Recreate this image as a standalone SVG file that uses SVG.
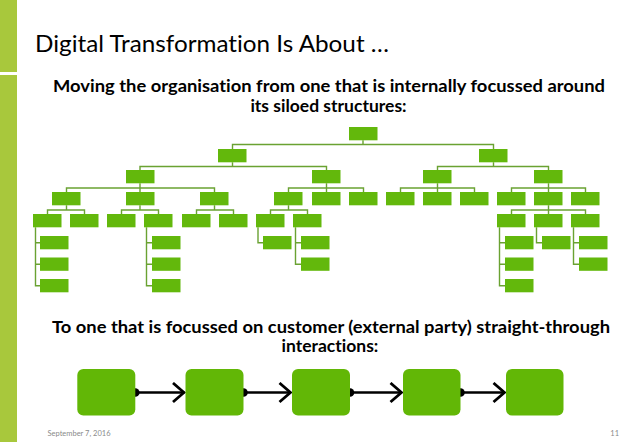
<svg xmlns="http://www.w3.org/2000/svg" width="638" height="442" viewBox="0 0 638 442">
<style>
.bar{fill:#a8c83c}
.b{fill:#63b80c}
.cb{fill:#62b706}
.tree{fill:none;stroke:#6aa232;stroke-width:1.4}
.flow{fill:none;stroke:#000;stroke-width:2.6}
text{font-variant-ligatures:none}
.title{font-family:Lato,"Liberation Sans",sans-serif;font-size:24px;fill:#000}
.sub{font-family:Lato,"Liberation Sans",sans-serif;font-size:17.5px;font-weight:bold;fill:#000;text-anchor:middle}
.foot{font-family:Lato,"Liberation Sans",sans-serif;font-size:7.5px;fill:#8a8a8a}
</style>
<defs>
<marker id="chev" markerUnits="userSpaceOnUse" viewBox="0 0 14 22" refX="13" refY="11" markerWidth="14" markerHeight="22" orient="auto">
<path d="M1.5,1.5 L12.5,11 L1.5,20.5" fill="none" stroke="#000" stroke-width="2.8"/>
</marker>
<marker id="dot" markerUnits="userSpaceOnUse" viewBox="0 0 10 10" refX="5" refY="5" markerWidth="10" markerHeight="10">
<circle cx="5" cy="5" r="4.3" fill="#000"/>
</marker>
</defs>
<rect width="638" height="442" fill="#fff"/>
<rect class="bar" x="0" y="0" width="17" height="72"/>
<rect class="bar" x="0" y="75" width="17" height="367"/>
<text class="title" x="35" y="52" textLength="354" lengthAdjust="spacingAndGlyphs">Digital Transformation Is About …</text>
<text class="sub" x="329" y="92" textLength="552" lengthAdjust="spacingAndGlyphs">Moving the organisation from one that is internally focussed around</text>
<text class="sub" x="328.5" y="111.5">its siloed structures:</text>
<text class="sub" x="331" y="333" textLength="558" lengthAdjust="spacingAndGlyphs">To one that is focussed on customer (external party) straight-through</text>
<text class="sub" x="330" y="352">interactions:</text>
<text class="foot" x="47.5" y="436">September 7, 2016</text>
<text class="foot" x="619" y="436" text-anchor="end">11</text>

<g id="connectors">
<path class="tree" d="M232.5,149 V144.5 H493.5 V149 M363,140.3 V144.5"/>
<path class="tree" d="M140,170 V166.5 H326.5 V170 M232.5,162.3 V166.5"/>
<path class="tree" d="M437.5,170 V166.5 H548.5 V170 M493.5,162.3 V166.5"/>
<path class="tree" d="M66.5,192 V188 H214.5 V192 M140,183.3 V192"/>
<path class="tree" d="M288.5,192 V188 H363.5 V192 M326.5,183.3 V192"/>
<path class="tree" d="M400.5,192 V188 H474.5 V192 M437.5,183.3 V192"/>
<path class="tree" d="M511.5,192 V188 H585.5 V192 M548.5,183.3 V192"/>
<path class="tree" d="M47.5,214 V210 H84.5 V214 M66.5,205.3 V210"/>
<path class="tree" d="M121.5,214 V210 H158.5 V214 M140,205.3 V210"/>
<path class="tree" d="M196.5,214 V210 H233.5 V214 M214.5,205.3 V210"/>
<path class="tree" d="M270.5,214 V210 H307.5 V214 M288.5,205.3 V210"/>
<path class="tree" d="M511.5,214 V210 H585.5 V214 M548.5,205.3 V214"/>
<path class="tree" d="M35.5,227.3 V285.7 H40 M35.5,242.7 H40 M35.5,264.2 H40"/>
<path class="tree" d="M146.5,227.3 V285.7 H152 M146.5,242.7 H152 M146.5,264.2 H152"/>
<path class="tree" d="M258,227.3 V242.7 H263"/>
<path class="tree" d="M295.5,227.3 V264.2 H301 M295.5,242.7 H301"/>
<path class="tree" d="M499.5,227.3 V285.7 H505 M499.5,242.7 H505 M499.5,264.2 H505"/>
<path class="tree" d="M536.5,227.3 V242.7 H542"/>
<path class="tree" d="M573.5,227.3 V264.2 H579 M573.5,242.7 H579"/>
<path class="flow" d="M135.3,392.5 H184.5" marker-start="url(#dot)" marker-end="url(#chev)"/>
<path class="flow" d="M243.5,392.5 H291" marker-start="url(#dot)" marker-end="url(#chev)"/>
<path class="flow" d="M350,392.5 H402" marker-start="url(#dot)" marker-end="url(#chev)"/>
<path class="flow" d="M460.5,392.5 H505" marker-start="url(#dot)" marker-end="url(#chev)"/>
</g>

<g id="n0"><rect class="b" x="349" y="127" width="28.5" height="13.3"/></g>
<g id="n1a"><rect class="b" x="218" y="149" width="28.5" height="13.3"/></g>
<g id="n1b"><rect class="b" x="479" y="149" width="28.5" height="13.3"/></g>
<g id="n2a"><rect class="b" x="126" y="170" width="28.5" height="13.3"/></g>
<g id="n2b"><rect class="b" x="312" y="170" width="28.5" height="13.3"/></g>
<g id="n2c"><rect class="b" x="423" y="170" width="28.5" height="13.3"/></g>
<g id="n2d"><rect class="b" x="534" y="170" width="28.5" height="13.3"/></g>
<g id="n3a"><rect class="b" x="52" y="192" width="28.5" height="13.3"/></g>
<g id="n3b"><rect class="b" x="126" y="192" width="28.5" height="13.3"/></g>
<g id="n3c"><rect class="b" x="200" y="192" width="28.5" height="13.3"/></g>
<g id="n3d"><rect class="b" x="274" y="192" width="28.5" height="13.3"/></g>
<g id="n3e"><rect class="b" x="312" y="192" width="28.5" height="13.3"/></g>
<g id="n3f"><rect class="b" x="349" y="192" width="28.5" height="13.3"/></g>
<g id="n3g"><rect class="b" x="386" y="192" width="28.5" height="13.3"/></g>
<g id="n3h"><rect class="b" x="423" y="192" width="28.5" height="13.3"/></g>
<g id="n3i"><rect class="b" x="460" y="192" width="28.5" height="13.3"/></g>
<g id="n3j"><rect class="b" x="497" y="192" width="28.5" height="13.3"/></g>
<g id="n3k"><rect class="b" x="534" y="192" width="28.5" height="13.3"/></g>
<g id="n3l"><rect class="b" x="571" y="192" width="28.5" height="13.3"/></g>
<g id="n4a"><rect class="b" x="33" y="214" width="28.5" height="13.3"/></g>
<g id="n4b"><rect class="b" x="70" y="214" width="28.5" height="13.3"/></g>
<g id="n4c"><rect class="b" x="107" y="214" width="28.5" height="13.3"/></g>
<g id="n4d"><rect class="b" x="144" y="214" width="28.5" height="13.3"/></g>
<g id="n4e"><rect class="b" x="182" y="214" width="28.5" height="13.3"/></g>
<g id="n4f"><rect class="b" x="219" y="214" width="28.5" height="13.3"/></g>
<g id="n4g"><rect class="b" x="256" y="214" width="28.5" height="13.3"/></g>
<g id="n4h"><rect class="b" x="293" y="214" width="28.5" height="13.3"/></g>
<g id="n4i"><rect class="b" x="497" y="214" width="28.5" height="13.3"/></g>
<g id="n4j"><rect class="b" x="534" y="214" width="28.5" height="13.3"/></g>
<g id="n4k"><rect class="b" x="571" y="214" width="28.5" height="13.3"/></g>
<g id="n5a1"><rect class="b" x="40" y="236" width="28.5" height="13.3"/></g>
<g id="n5a2"><rect class="b" x="40" y="257.5" width="28.5" height="13.3"/></g>
<g id="n5a3"><rect class="b" x="40" y="279" width="28.5" height="13.3"/></g>
<g id="n5b1"><rect class="b" x="152" y="236" width="28.5" height="13.3"/></g>
<g id="n5b2"><rect class="b" x="152" y="257.5" width="28.5" height="13.3"/></g>
<g id="n5b3"><rect class="b" x="152" y="279" width="28.5" height="13.3"/></g>
<g id="n5c1"><rect class="b" x="263" y="236" width="28.5" height="13.3"/></g>
<g id="n5d1"><rect class="b" x="301" y="236" width="28.5" height="13.3"/></g>
<g id="n5d2"><rect class="b" x="301" y="257.5" width="28.5" height="13.3"/></g>
<g id="n5e1"><rect class="b" x="505" y="236" width="28.5" height="13.3"/></g>
<g id="n5e2"><rect class="b" x="505" y="257.5" width="28.5" height="13.3"/></g>
<g id="n5e3"><rect class="b" x="505" y="279" width="28.5" height="13.3"/></g>
<g id="n5f1"><rect class="b" x="542" y="236" width="28.5" height="13.3"/></g>
<g id="n5g1"><rect class="b" x="579" y="236" width="28.5" height="13.3"/></g>
<g id="n5g2"><rect class="b" x="579" y="257.5" width="28.5" height="13.3"/></g>

<g id="c1"><rect class="cb" x="77.3" y="369" width="58" height="46.5" rx="6"/></g>
<g id="c2"><rect class="cb" x="185.5" y="369" width="58" height="46.5" rx="6"/></g>
<g id="c3"><rect class="cb" x="292" y="369" width="58" height="46.5" rx="6"/></g>
<g id="c4"><rect class="cb" x="403" y="369" width="57.5" height="46.5" rx="6"/></g>
<g id="c5"><rect class="cb" x="506" y="369" width="57.5" height="46.5" rx="6"/></g>
</svg>
